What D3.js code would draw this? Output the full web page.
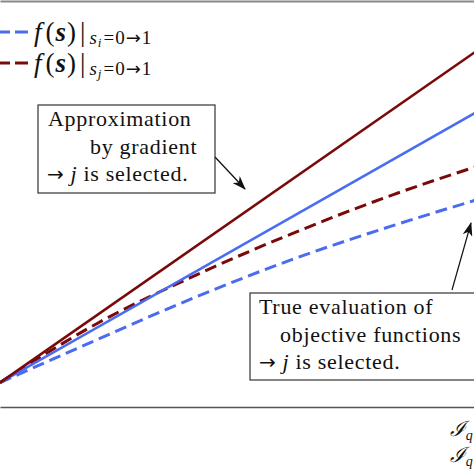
<!DOCTYPE html>
<html>
<head>
<meta charset="utf-8">
<script src="https://cdn.jsdelivr.net/npm/d3@7"></script>
<style>
  html, body { margin: 0; padding: 0; background: #fff; }
  svg { display: block; }
  text { font-family: "Liberation Serif", "DejaVu Serif", serif; fill: #111; }
</style>
</head>
<body>
<div class="canvas"></div>
<script>
// data (x runs 0..1 along the axis, y is f(s))
const xGrad = [0, 1];
const gradI = [0.06, 0.745];   // solid blue, tangent for s_i
const gradJ = [0.06, 0.900];   // solid red, tangent for s_j
const xTrue = [0, 0.2, 0.4, 0.6, 0.8, 1.0];
const trueI = [0.06, 0.167, 0.271, 0.365, 0.446, 0.520];  // dashed blue
const trueJ = [0.06, 0.207, 0.325, 0.429, 0.522, 0.603];  // dashed red
const legendSubs = ['i', 'j'];
const xTickLabels = [['\u2110', 'q'], ['\u2110', 'q']];
const xTickPos = 0.918;

const blue = '#4a6cf0';
const red = '#7a0a0a';

const width = 474, height = 474;

const svg = d3.select('.canvas')
  .append('svg')
    .attr('width', width)
    .attr('height', height);

// scales
const x = d3.scaleLinear().domain([0, 1]).range([0, 490]);
const y = d3.scaleLinear().domain([0, 1]).range([407, 1]);

// frame lines
svg.append('g')
    .attr('transform', `translate(0, ${y(0)})`)
    .call(d3.axisBottom(x).tickValues([]).tickSizeOuter(0))
    .select('.domain')
      .attr('stroke', '#555')
      .attr('stroke-width', 1.3);

svg.append('g')
    .attr('transform', `translate(0, ${y(1)})`)
    .call(d3.axisTop(x).tickValues([]).tickSizeOuter(0))
    .select('.domain')
      .attr('stroke', '#888')
      .attr('stroke-width', 2.2);

// tick labels at the right end of the axis
xTickLabels.forEach((lab, i) => {
  const t = svg.append('text')
      .attr('x', x(xTickPos))
      .attr('y', y(0) + 29 + i * 26)
      .style('font-size', '21px');
  t.append('tspan').text(lab[0])
      .style('font-family', '"DejaVu Serif", serif')
      .style('font-style', 'italic');
  t.append('tspan').text(lab[1])
      .attr('dy', 4)
      .style('font-size', '14px')
      .style('font-style', 'italic');
});

// lines
const line = d3.line()
    .x(d => x(d[0]))
    .y(d => y(d[1]));
const smooth = d3.line()
    .x(d => x(d[0]))
    .y(d => y(d[1]))
    .curve(d3.curveMonotoneX);

const series = [
  {xs: xTrue, ys: trueI, color: blue, dash: '12,6', gen: smooth, w: 3},
  {xs: xTrue, ys: trueJ, color: red, dash: '12,6', gen: smooth, w: 3},
  {xs: xGrad, ys: gradI, color: blue, dash: null, gen: line, w: 2.6},
  {xs: xGrad, ys: gradJ, color: red, dash: null, gen: line, w: 2.6}
];

svg.selectAll('path.series')
  .data(series)
  .enter()
  .append('path')
    .attr('class', 'series')
    .attr('d', s => s.gen(s.xs.map((v, i) => [v, s.ys[i]])))
    .attr('fill', 'none')
    .attr('stroke', s => s.color)
    .attr('stroke-width', s => s.w)
    .attr('stroke-dasharray', s => s.dash);

// legend
const legend = svg.append('g');
[blue, red].forEach((c, i) => {
  const ly = 32 + i * 31;
  legend.append('line')
      .attr('x1', 28).attr('x2', -20)
      .attr('y1', ly).attr('y2', ly)
      .attr('stroke', c)
      .attr('stroke-width', 3)
      .attr('stroke-dasharray', '13,5');

  const t = legend.append('text')
      .attr('x', 34)
      .attr('y', ly + 9)
      .style('font-size', '27px')
      .style('letter-spacing', '1px');
  t.append('tspan').text('f').style('font-style', 'italic');
  t.append('tspan').text('(').attr('dx', 3);
  t.append('tspan').text('s').style('font-style', 'italic').style('font-weight', 'bold');
  t.append('tspan').text(')');
  t.append('tspan').text('|').attr('dx', 3).style('font-size', '27px');
  t.append('tspan').text('s').attr('dx', 3).attr('dy', 3)
      .style('font-size', '19px').style('font-style', 'italic');
  t.append('tspan').text(legendSubs[i]).attr('dy', 3)
      .style('font-size', '13px').style('font-style', 'italic');
  t.append('tspan').text('=0').attr('dy', -3).attr('dx', 1)
      .style('font-size', '19px');
  t.append('tspan').text('\u2192')
      .style('font-family', '"DejaVu Sans", sans-serif')
      .style('font-size', '18px');
  t.append('tspan').text('1')
      .style('font-size', '19px');
});

// arrow head
svg.append('defs').append('marker')
    .attr('id', 'head')
    .attr('markerUnits', 'userSpaceOnUse')
    .attr('viewBox', '0 0 14 10')
    .attr('refX', 13).attr('refY', 5)
    .attr('markerWidth', 14).attr('markerHeight', 10)
    .attr('orient', 'auto')
  .append('path')
    .attr('d', 'M0,0 L14,5 L0,10 L4,5 Z')
    .attr('fill', '#111');

// annotation boxes
const notes = [
  {box: [38, 105, 177, 88], lines: [['Approximation', 48], ['by gradient', 90], ['sel', 47]],
   arrow: [215, 157, 245, 189]},
  {box: [250, 293, 240, 87], lines: [['True evaluation of', 259], ['objective functions', 280], ['sel', 259]],
   arrow: [452, 290, 471, 223]}
];

notes.forEach(n => {
  const g = svg.append('g');
  g.append('rect')
      .attr('x', n.box[0]).attr('y', n.box[1])
      .attr('width', n.box[2]).attr('height', n.box[3])
      .attr('fill', '#fff')
      .attr('stroke', '#333')
      .attr('stroke-width', 1.2);
  n.lines.forEach((l, i) => {
    const t = g.append('text')
        .attr('x', l[1])
        .attr('y', n.box[1] + 21 + i * 27.5)
        .style('font-size', '22px')
        .style('letter-spacing', '0.7px');
    if (l[0] === 'sel') {
      t.append('tspan').text('\u2192')
          .style('font-family', '"DejaVu Sans", sans-serif')
          .style('font-size', '20px');
      t.append('tspan').text('j').attr('dx', 6).style('font-style', 'italic');
      t.append('tspan').text(' is selected.');
    } else {
      t.text(l[0]);
    }
  });
  svg.append('line')
      .attr('x1', n.arrow[0]).attr('y1', n.arrow[1])
      .attr('x2', n.arrow[2]).attr('y2', n.arrow[3])
      .attr('stroke', '#111')
      .attr('stroke-width', 1.2)
      .attr('marker-end', 'url(#head)');
});
</script>
</body>
</html>
